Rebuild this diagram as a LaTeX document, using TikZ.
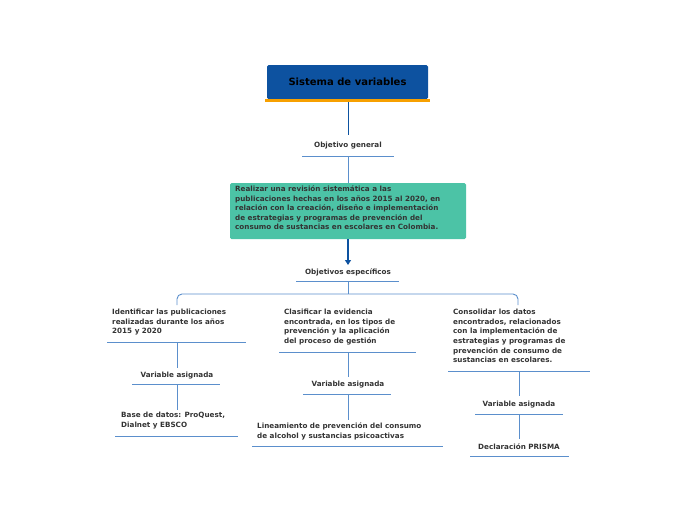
\documentclass[tikz,border=0pt]{standalone}
\usepackage{fontspec}
\setmainfont{DejaVu Sans}
\usetikzlibrary{arrows.meta}
\definecolor{tblue}{HTML}{0D52A0}
\definecolor{lblue}{HTML}{5B8FCC}
\definecolor{green}{HTML}{4CC3A6}
\definecolor{torange}{HTML}{F7A000}
\definecolor{txt}{HTML}{333333}
\begin{document}
\begin{tikzpicture}[x=1pt,y=-1pt,
 lbl/.style={font=\fontsize{7.2}{9.6}\selectfont\bfseries,text=txt,inner sep=0pt,align=left},
 ul/.style={draw=lblue,line width=0.8pt},
 con/.style={draw=lblue,line width=0.9pt}]
\useasboundingbox (0,0) rectangle (697,520);
% title
\node[fill=tblue,rounded corners=1.5pt,minimum width=161pt,minimum height=34pt,font=\fontsize{10}{12}\selectfont\bfseries,text=black] (title) at (347.5,82) {Sistema de variables};
\draw[torange,line width=3pt] (265,100.5) -- (430,100.5);
\node[lbl] (og) at (348,146) {Objetivo general};
\draw[ul] (302,156) -- (394,156);
\draw[draw=tblue,line width=1pt] (348,102) -- (348,135);
\draw[con] (348,156) -- (348,183);
\node[fill=green,rounded corners=1.5pt,minimum width=236pt,minimum height=56pt,inner sep=0pt] (gbox) at (348,211) {};
\node[lbl,anchor=north west] (gtxt) at (235,185.5) {Realizar una revisión sistemática a las\\publicaciones hechas en los años 2015 al 2020, en\\relación con la creación, diseño e implementación\\de estrategias y programas de prevención del\\consumo de sustancias en escolares en Colombia.};
\draw[tblue,line width=1.2pt,-{Triangle[length=5pt,width=6pt]}] (gbox.south) -- (348,265);
\node[lbl] (oe) at (348,272) {Objetivos específicos};
\draw[ul] (296,281) -- (399,281);
\draw[con] (348,281) -- (348,294);
\draw[con,rounded corners=5pt] (177,305) -- (177,294) -- (518,294) -- (518,305);
% left
\node[lbl,anchor=north west] (l1) at (112,309) {Identificar las publicaciones\\realizadas durante los años\\2015 y 2020};
\draw[ul] (107,342) -- (246,342);
\draw[con] (177,342) -- (177,368);
\node[lbl] (l2) at (177,376) {Variable asignada};
\draw[ul] (132,384) -- (220,384);
\draw[con] (177,384) -- (177,410);
\node[lbl,anchor=north west] (l3) at (121,412) {Base de datos: ProQuest,\\Dialnet y EBSCO};
\draw[ul] (115,436) -- (238,436);
% middle
\node[lbl,anchor=north west] (m1) at (284,309) {Clasificar la evidencia\\encontrada, en los tipos de\\prevención y la aplicación\\del proceso de gestión};
\draw[ul] (279,352) -- (416,352);
\draw[con] (348,352) -- (348,377);
\node[lbl] (m2) at (348,385) {Variable asignada};
\draw[ul] (303,394) -- (391,394);
\draw[con] (348,394) -- (348,420);
\node[lbl,anchor=north west] (m3) at (257,423) {Lineamiento de prevención del consumo\\de alcohol y sustancias psicoactivas};
\draw[ul] (252,446) -- (443,446);
% right
\node[lbl,anchor=north west] (r1) at (453,309) {Consolidar los datos\\encontrados, relacionados\\con la implementación de\\estrategias y programas de\\prevención de consumo de\\sustancias en escolares.};
\draw[ul] (448,371) -- (590,371);
\draw[con] (519,371) -- (519,396);
\node[lbl] (r2) at (519,405) {Variable asignada};
\draw[ul] (475,414) -- (563,414);
\draw[con] (519,414) -- (519,439);
\node[lbl] (r3) at (519,447) {Declaración PRISMA};
\draw[ul] (470,456) -- (569,456);
\end{tikzpicture}
\end{document}
